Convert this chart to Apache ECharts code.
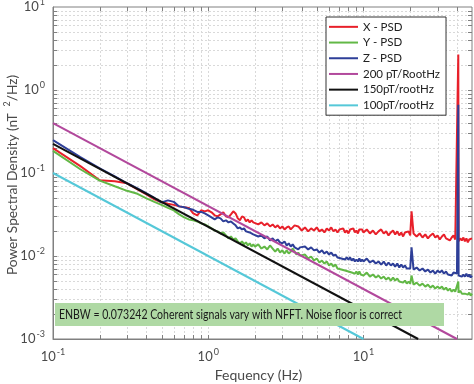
<!DOCTYPE html>
<html><head><meta charset="utf-8">
<script src="https://cdn.jsdelivr.net/npm/echarts@6/dist/echarts.min.js"></script>
<style>html,body{margin:0;padding:0;background:#fff}#c{width:474px;height:384px}</style>
</head><body><div id="c"></div>
<script>
const freq = [0.1,0.15,0.2,0.25,0.3,0.35,0.4,0.45,0.5,0.55,0.6,0.65,0.7,0.75,0.8,0.85,0.9,0.95,
 1,1.05,1.1,1.15,1.2,1.25,1.3,1.35,1.4,1.45,1.5,1.55,1.6,1.65,1.7,1.75,1.8,1.85,1.9,1.95,
 2,2.1,2.2,2.3,2.4,2.5,2.6,2.7,2.8,2.9,3,3.1,3.2,3.3,3.4,3.5,3.6,3.7,3.8,3.9,
 4,4.2,4.4,4.6,4.8,5,5.2,5.4,5.6,5.8,6,6.2,6.4,6.6,6.8,7,7.2,7.4,7.6,7.8,8,8.2,8.4,8.6,8.8,9,9.2,9.4,9.6,9.8,
 10,10.5,11,11.5,12,12.5,13,13.5,14,14.5,15,15.5,16,16.5,17,17.5,18,18.5,19,19.5,
 20,20.4,21,22,23,24,25,26,27,28,29,30,31,32,33,34,35,36,37,38,39,40,40.8,41,42,43,44,45,46,47,48,49,50];

const xPsd = [0.199,0.121,0.0817,0.0795,0.0752,0.0636,0.0553,0.0482,0.0443,0.0425,0.0413,0.0396,0.0386,0.0380,0.0326,0.0309,0.0355,0.0345,
 0.0355,0.0336,0.0309,0.0300,0.0317,0.0336,0.0300,0.0292,0.0317,0.0345,0.0326,0.0284,0.0269,0.0300,0.0292,0.0261,0.0276,0.0254,0.0269,0.0254,
 0.0261,0.0240,0.0254,0.0234,0.0247,0.0227,0.0240,0.0221,0.0234,0.0215,0.0227,0.0209,0.0221,0.0227,0.0209,0.0221,0.0234,0.0247,0.0227,0.0215,
 0.0203,0.0221,0.0198,0.0215,0.0203,0.0221,0.0198,0.0209,0.0192,0.0215,0.0203,0.0221,0.0198,0.0209,0.0192,0.0209,0.0198,0.0215,0.0192,0.0203,0.0187,0.0209,0.0198,0.0215,0.0192,0.0203,0.0187,0.0209,0.0198,0.0209,
 0.0192,0.0209,0.0187,0.0203,0.0182,0.0198,0.0209,0.0187,0.0198,0.0177,0.0192,0.0203,0.0182,0.0198,0.0177,0.0192,0.0172,0.0192,0.0182,0.0198,
 0.0177,0.0345,0.0187,0.0172,0.0187,0.0167,0.0182,0.0163,0.0177,0.0187,0.0167,0.0177,0.0158,0.0172,0.0182,0.0163,0.0172,0.0154,0.0167,0.0177,0.0158,0.0167,2.67,0.0150,0.0163,0.0154,0.0167,0.0150,0.0163,0.0146,0.0158,0.0150,0.0163];

const yPsd = [0.185,0.111,0.0808,0.0692,0.0610,0.0562,0.0495,0.0449,0.0413,0.0380,0.0355,0.0317,0.0292,0.0276,0.0269,0.0261,0.0247,0.0240,
 0.0227,0.0215,0.0203,0.0198,0.0187,0.0192,0.0177,0.0163,0.0172,0.0158,0.0163,0.0150,0.0142,0.0150,0.0138,0.0146,0.0134,0.0142,0.0130,0.0138,
 0.0130,0.0138,0.0123,0.0130,0.0120,0.0134,0.0123,0.0113,0.0123,0.0110,0.0117,0.0107,0.0117,0.0107,0.0113,0.0123,0.0113,0.0104,0.0110,0.0101,
 0.00986,0.0104,0.00933,0.00986,0.00882,0.00933,0.00834,0.00882,0.00811,0.00858,0.00768,0.00811,0.00746,0.00789,0.00706,0.00746,0.00687,0.00726,0.00668,0.00706,0.00650,0.00687,0.00632,0.00668,0.00614,0.00650,0.00598,0.00650,0.00598,0.00632,
 0.00581,0.00632,0.00565,0.00598,0.00550,0.00581,0.00535,0.00565,0.00520,0.00550,0.00506,0.00550,0.00506,0.00535,0.00492,0.00520,0.00478,0.00506,0.00465,0.00492,
 0.00465,0.00581,0.00452,0.00478,0.00440,0.00465,0.00428,0.00452,0.00416,0.00440,0.00405,0.00428,0.00405,0.00428,0.00394,0.00416,0.00383,0.00405,0.00372,0.00394,0.00372,0.00383,0.00492,0.00362,0.00383,0.00352,0.00372,0.00352,0.00372,0.00342,0.00362,0.00333,0.00352];

const zPsd = [0.249,0.155,0.114,0.0913,0.0752,0.0654,0.0569,0.0500,0.0443,0.0468,0.0449,0.0396,0.0386,0.0370,0.0360,0.0340,0.0340,0.0326,
 0.0309,0.0292,0.0276,0.0292,0.0284,0.0261,0.0269,0.0254,0.0261,0.0247,0.0234,0.0215,0.0221,0.0209,0.0215,0.0198,0.0209,0.0192,0.0198,0.0182,
 0.0187,0.0172,0.0177,0.0163,0.0172,0.0154,0.0163,0.0150,0.0158,0.0146,0.0142,0.0150,0.0134,0.0142,0.0130,0.0138,0.0127,0.0130,0.0120,0.0127,
 0.0123,0.0130,0.0120,0.0127,0.0117,0.0120,0.0110,0.0117,0.0107,0.0113,0.0104,0.0110,0.0101,0.0104,0.00959,0.0101,0.00933,0.00986,0.00907,0.00959,0.00907,0.00959,0.00882,0.00933,0.00858,0.00907,0.00858,0.00933,0.00858,0.00907,
 0.00858,0.00933,0.00834,0.00882,0.00811,0.00858,0.00789,0.00858,0.00768,0.00834,0.00768,0.00811,0.00746,0.00811,0.00726,0.00789,0.00726,0.00768,0.00706,0.00746,
 0.00706,0.0127,0.00687,0.00726,0.00668,0.00706,0.00650,0.00687,0.00632,0.00668,0.00614,0.00668,0.00632,0.00668,0.00614,0.00650,0.00598,0.00632,0.00581,0.00632,0.00598,0.00614,0.665,0.00581,0.00614,0.00565,0.00598,0.00565,0.00614,0.00565,0.00598,0.00550,0.00581];

// reference noise-floor lines (start and end where they leave the plot)
const ref200 = [[0.1, 0.4], [40, 0.001]];
const ref150 = [[0.1, 0.225], [22.5, 0.001]];
const ref100 = [[0.1, 0.1], [10, 0.001]];

const seriesNames = ['X - PSD', 'Y - PSD', 'Z - PSD', '200 pT/RootHz', '150pT/rootHz', '100pT/rootHz'];
const seriesColors = ['#e8202a', '#62b846', '#2e3f98', '#b2489c', '#111111', '#55c8d8'];

const xTicks = [0.2,0.3,0.4,0.5,0.6,0.7,0.8,0.9,1,2,3,4,5,6,7,8,9,10,20,30,40];
const yTicks = [0.002,0.003,0.004,0.005,0.006,0.007,0.008,0.009,0.01,0.02,0.03,0.04,0.05,0.06,0.07,0.08,0.09,0.1,
 0.2,0.3,0.4,0.5,0.6,0.7,0.8,0.9,1,2,3,4,5,6,7,8,9];

const xName = 'Fequency (Hz)';
const noteText = 'ENBW = 0.073242 Coherent signals vary with NFFT. Noise floor is correct';

const FONT = 'Lato';
const gridColor = '#d9d9d9';
const axisColor = '#808080';
const labelColor = '#4a4a4a';

function powLabel(v) {
  const e = Math.log10(v);
  if (Math.abs(e - Math.round(e)) > 0.01) return '';
  return '{b|10}{e|' + Math.round(e) + '}';
}
const richPow = {
  b: { fontSize: 13, color: labelColor, fontFamily: FONT },
  e: { fontSize: 9, color: labelColor, fontFamily: FONT, padding: [0, 0, 9, 1] }
};

const chart = echarts.init(document.getElementById('c'), null, { renderer: 'canvas' });

function zip(vals) { return freq.map((f, i) => [f, vals[i]]); }
const lineData = [zip(xPsd), zip(yPsd), zip(zPsd), ref200, ref150, ref100];

const series = [];
series.push({
  type: 'custom', z: 1, silent: true,
  data: xTicks.map(v => [v, 0.01]),
  encode: { x: 0, y: 1 },
  renderItem(params, api) {
    const cs = params.coordSys;
    const x = Math.round(api.coord([api.value(0), 0.01])[0]) + 0.5;
    const t = cs.y, b = cs.y + cs.height;
    return { type: 'group', children: [
      { type: 'line', shape: { x1: x, y1: t, x2: x, y2: b }, style: { stroke: gridColor, lineWidth: 1, lineDash: [2, 2] } },
      { type: 'line', shape: { x1: x, y1: b, x2: x, y2: b - 4 }, style: { stroke: axisColor, lineWidth: 1 } },
      { type: 'line', shape: { x1: x, y1: t, x2: x, y2: t + 4 }, style: { stroke: axisColor, lineWidth: 1 } }
    ]};
  }
});
series.push({
  type: 'custom', z: 1, silent: true,
  data: yTicks.map(v => [1, v]),
  encode: { x: 0, y: 1 },
  renderItem(params, api) {
    const cs = params.coordSys;
    const y = Math.round(api.coord([1, api.value(1)])[1]) + 0.5;
    const l = cs.x, r = cs.x + cs.width;
    return { type: 'group', children: [
      { type: 'line', shape: { x1: l, y1: y, x2: r, y2: y }, style: { stroke: gridColor, lineWidth: 1, lineDash: [2, 2] } },
      { type: 'line', shape: { x1: l, y1: y, x2: l + 4, y2: y }, style: { stroke: axisColor, lineWidth: 1 } },
      { type: 'line', shape: { x1: r, y1: y, x2: r - 4, y2: y }, style: { stroke: axisColor, lineWidth: 1 } }
    ]};
  }
});
seriesNames.forEach((n, i) => {
  series.push({
    name: n, type: 'line', data: lineData[i], showSymbol: false, symbol: 'none',
    lineStyle: { width: 2, color: seriesColors[i] }, itemStyle: { color: seriesColors[i] },
    z: 2, clip: true
  });
});

chart.setOption({
  animation: false,
  textStyle: { fontFamily: FONT },
  grid: { left: 53, right: 2, top: 7, bottom: 45, containLabel: false, outerBoundsMode: 'none',
    show: true, borderColor: axisColor, borderWidth: 1, backgroundColor: 'transparent' },
  xAxis: {
    type: 'log', logBase: 10, min: 0.1, max: 50,
    name: xName, nameLocation: 'middle', nameGap: 29,
    nameTextStyle: { fontSize: 14, color: labelColor, fontFamily: FONT, padding: [0, 8, 0, 0] },
    axisLine: { show: true, lineStyle: { color: axisColor } },
    axisTick: { show: false }, splitLine: { show: false }, minorTick: { show: false },
    axisLabel: { formatter: powLabel, rich: richPow, margin: 9, showMaxLabel: false }
  },
  yAxis: {
    type: 'log', logBase: 10, min: 0.001, max: 10,
    axisLine: { show: true, lineStyle: { color: axisColor } },
    axisTick: { show: false }, splitLine: { show: false }, minorTick: { show: false },
    axisLabel: { formatter: powLabel, rich: richPow, margin: 8 }
  },
  legend: {
    data: seriesNames, orient: 'vertical', left: 326, top: 17,
    icon: 'rect', itemWidth: 29, itemHeight: 2, itemGap: 2,
    padding: [3, 6, 3, 3], borderColor: '#333', borderWidth: 1, backgroundColor: '#fff',
    textStyle: { fontSize: 11.5, color: '#222', fontFamily: FONT, lineHeight: 13.7 }
  },
  graphic: [
    { type: 'text', z: 50, x: 12, y: 175, rotation: Math.PI / 2, scaleX: 0.98,
      style: { text: '{t|Power Spectral Density (nT  }{s|2}{t|/Hz)}', align: 'center', verticalAlign: 'middle',
        rich: { t: { fontSize: 14, fill: labelColor, fontFamily: FONT },
                s: { fontSize: 9, fill: labelColor, fontFamily: FONT, padding: [0, 0, 9, 0] } } } },
    { type: 'rect', z: 100, shape: { x: 55, y: 303, width: 389, height: 23 }, style: { fill: '#afd9a4' } },
    { type: 'text', z: 101, x: 59, y: 315, scaleX: 0.81,
      style: { text: noteText, fill: '#1a1a1a', font: '13px ' + FONT, verticalAlign: 'middle' } }
  ],
  series: series
});
</script>
</body></html>
